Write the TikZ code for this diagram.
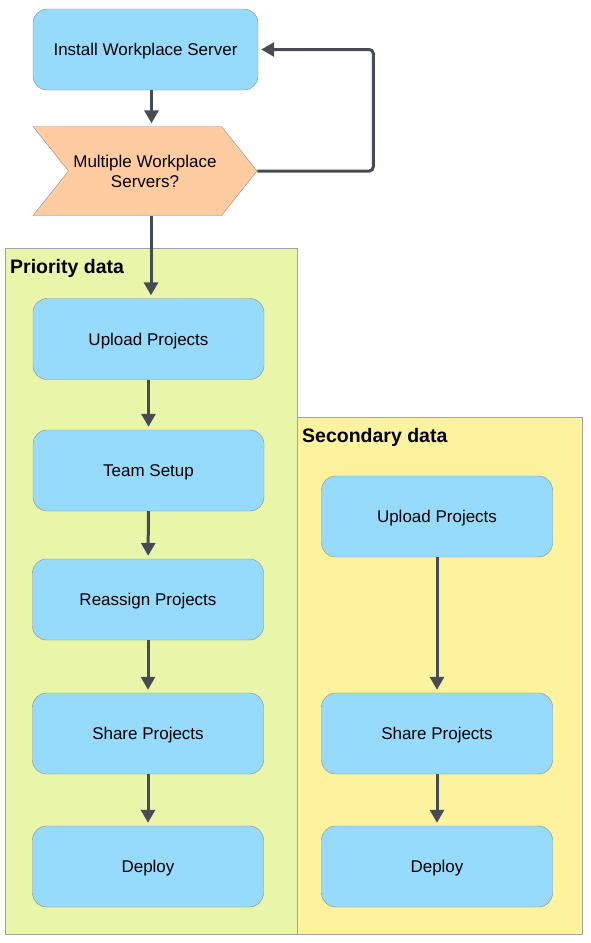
\documentclass[tikz,border=0pt]{standalone}
\usepackage{fontspec}
\setmainfont{Liberation Sans}
\usetikzlibrary{positioning}
\usetikzlibrary{shapes.symbols,arrows.meta}

\definecolor{stepblue}{RGB}{151,219,252}
\definecolor{askpeach}{RGB}{254,204,160}
\definecolor{prioritygreen}{RGB}{233,246,170}
\definecolor{secondyellow}{RGB}{253,242,157}
\definecolor{edgegray}{RGB}{140,140,140}
\definecolor{flowgray}{RGB}{71,75,85}

\begin{document}
\begin{tikzpicture}[x=1pt,y=-1pt,
  stepbox/.style={draw=edgegray,fill=stepblue,rounded corners=14pt,minimum width=231pt,minimum height=81pt,inner sep=0pt,text height=12.2pt,text depth=0pt,font=\fontsize{17}{20}\selectfont},
  askbox/.style={shape=signal,signal from=west,signal to=east,signal pointer angle=103,draw=edgegray,fill=askpeach,minimum width=224pt,minimum height=89pt,inner sep=0pt,align=center,font=\fontsize{17}{20}\selectfont},
  group/.style={draw=edgegray!80,line width=1pt},
  grouptitle/.style={anchor=base west,inner sep=0pt,font=\fontsize{19.5}{22}\selectfont\bfseries},
  flow/.style={draw=flowgray,line width=3pt,-{Triangle[length=13pt,width=14pt]},shorten >=3pt}]
\useasboundingbox (0,0) rectangle (591,943);

% groups
\draw[group,fill=prioritygreen] (5,248) rectangle (297,934);
\draw[group,fill=secondyellow] (297,417) rectangle (582,934);
\path (10,273) node[grouptitle] (prio) {Priority data}
(302,442) node[grouptitle] (second) {Secondary data};

% setup
\path (145.5,49.5) node[stepbox,minimum width=225pt] (install) {Install Workplace Server}
(145,171) node[askbox] (ask) {Multiple Workplace\\Servers?};

% priority column
\path (148.5,339) node[stepbox] (up1) {Upload Projects}
(148.5,470.5) node[stepbox] (team) {Team Setup}
(148,599.5) node[stepbox] (reas) {Reassign Projects}
(148,733.5) node[stepbox] (shr1) {Share Projects}
(148,866.5) node[stepbox] (dep1) {Deploy};

% secondary column
\path (437,516.5) node[stepbox] (up2) {Upload Projects}
(437,733.5) node[stepbox] (shr2) {Share Projects}
(437,866.5) node[stepbox] (dep2) {Deploy};

\draw[flow] ([xshift=6pt]install.south) -- ([xshift=6pt]install.south |- ask.north);
\draw[flow,rounded corners=4pt] (ask.east) -- ++(116,0) |- (install.east);
\draw[flow] ([xshift=6pt]ask.south) -- ([xshift=6pt]ask.south |- up1.north);
\draw[flow] (up1) -- (team);
\draw[flow] (team) -- (reas);
\draw[flow] (reas) -- (shr1);
\draw[flow] (shr1) -- (dep1);
\draw[flow] (up2) -- (shr2);
\draw[flow] (shr2) -- (dep2);
\end{tikzpicture}
\end{document}
